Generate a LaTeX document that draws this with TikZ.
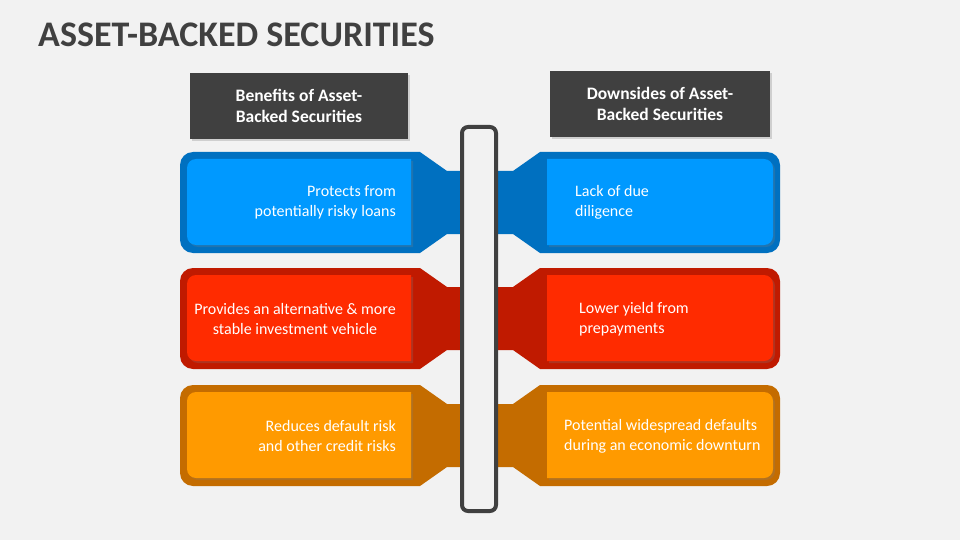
\documentclass[tikz,border=0pt]{standalone}
\usepackage{fontspec}
\setmainfont{Carlito}
\usetikzlibrary{shadows}
\definecolor{bg}{HTML}{F2F2F2}
\definecolor{dk}{HTML}{404040}
\definecolor{bO}{HTML}{0070C0}\definecolor{bI}{HTML}{0099FF}
\definecolor{rO}{HTML}{C01A00}\definecolor{rI}{HTML}{FF2B00}
\definecolor{oO}{HTML}{C46C00}\definecolor{oI}{HTML}{FF9A00}
\tikzset{
  hdr/.style={fill=dk,text=white,font=\bfseries\fontsize{17.5}{21}\selectfont,align=center,inner sep=0pt,drop shadow={shadow xshift=2pt,shadow yshift=-2pt,opacity=0.3}},
  inl/.style={minimum width=224pt,minimum height=86pt,inner sep=0pt},
  txt/.style={text=white,font=\fontsize{16}{20}\selectfont,inner sep=0pt}
}
\begin{document}
\begin{tikzpicture}[x=1pt,y=1pt]
\fill[bg] (0,0) rectangle (960,-540);
\useasboundingbox (0,0) rectangle (960,-540);
\node[anchor=west,text=dk,font=\bfseries\fontsize{36}{40}\selectfont,inner sep=0pt] (title) at (38,-35) {ASSET-BACKED SECURITIES};
\node[hdr,minimum width=218pt,minimum height=66pt] (hl) at (299,-106) {Benefits of Asset-\\Backed Securities};
\node[hdr,minimum width=220pt,minimum height=66pt] (hr) at (660,-104) {Downsides of Asset-\\Backed Securities};
\foreach \yt/\o/\i [count=\k] in {152/bO/bI,268/rO/rI,385/oO/oI}{
  \pgfmathsetmacro\yb{\yt+101}
  \fill[\o,rounded corners=13pt] (300,-\yt) -- (180,-\yt) -- (180,-\yb) -- (300,-\yb) [sharp corners] -- (420,-\yb) -- (447,-\yb+19) -- (465,-\yb+19) -- (465,-\yt-19) -- (447,-\yt-19) -- (420,-\yt) -- cycle;
  \fill[\o,rounded corners=13pt] (660,-\yt) -- (780,-\yt) -- (780,-\yb) -- (660,-\yb) [sharp corners] -- (540,-\yb) -- (513,-\yb+19) -- (495,-\yb+19) -- (495,-\yt-19) -- (513,-\yt-19) -- (540,-\yt) -- cycle;
  \fill[\i,rounded corners=9pt,drop shadow={shadow xshift=2pt,shadow yshift=-2pt,opacity=0.25}] (300,-\yt-7) -- (187,-\yt-7) -- (187,-\yb+8) -- (300,-\yb+8) [sharp corners] -- (411,-\yb+8) -- (411,-\yt-7) -- cycle;
  \fill[\i,rounded corners=9pt,drop shadow={shadow xshift=2pt,shadow yshift=-2pt,opacity=0.25}] (660,-\yt-7) -- (773,-\yt-7) -- (773,-\yb+8) -- (660,-\yb+8) [sharp corners] -- (547,-\yb+8) -- (547,-\yt-7) -- cycle;
  \node[inl] (L\k) at (299,-\yt-51) {};
  \node[inl] (R\k) at (660,-\yt-51) {};
}
\node[draw=dk,line width=4pt,fill=bg,rounded corners=6pt,minimum width=34pt,minimum height=384pt] (bar) at (479,-319) {};
\node[txt,align=right,anchor=east] (lt1) at (396,-202) {Protects from\\potentially risky loans};
\node[txt,align=center] (lt2) at (295,-319) {Provides an alternative \& more\\stable investment vehicle};
\node[txt,align=right,anchor=east] (lt3) at (396,-436) {Reduces default risk\\and other credit risks};
\node[txt,align=left,anchor=west] (rt1) at (575,-202) {Lack of due\\diligence};
\node[txt,align=left,anchor=west] (rt2) at (579,-319) {Lower yield from\\prepayments};
\node[txt,align=left,anchor=west] (rt3) at (564,-436) {Potential widespread defaults\\during an economic downturn};
\end{tikzpicture}
\end{document}
